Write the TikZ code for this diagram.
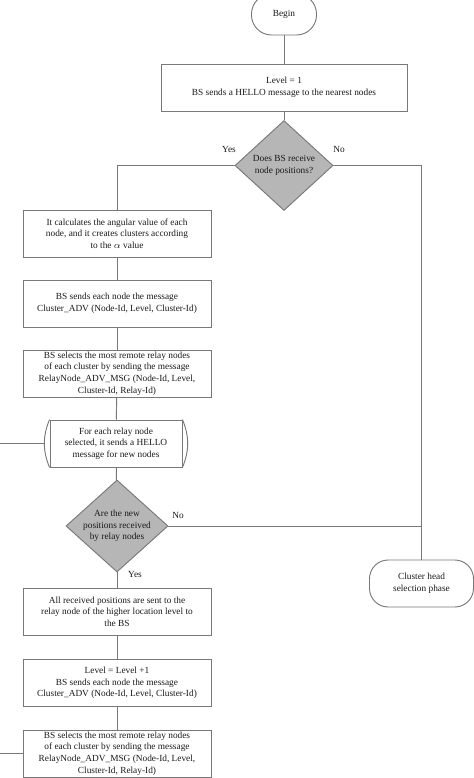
\documentclass[tikz,border=0pt]{standalone}
\usepackage{fontspec}
\setmainfont{Liberation Serif}
\usetikzlibrary{shapes.geometric}
\definecolor{linegray}{RGB}{120,120,120}
\definecolor{diagray}{RGB}{182,182,182}

\begin{document}
\begin{tikzpicture}[x=0.75pt,y=-0.75pt,
        every node/.style={font=\fontsize{7}{8.75}\selectfont, align=center, text=black!90},
        box/.style={draw=linegray, line width=0.7pt, minimum width=141pt, minimum height=35.25pt, inner sep=1pt},
        decision/.style={diamond, aspect=1.1, draw=linegray, fill=diagray, line width=0.7pt, inner sep=-1pt},
        terminal/.style={draw=linegray, line width=0.7pt, inner sep=1pt},
        link/.style={draw=linegray, line width=0.7pt}]
        \useasboundingbox (0,0) rectangle (474,778);

        \node[terminal, rounded corners=15pt, minimum width=48.75pt, minimum height=30.75pt] (begin) at (284,14.5) {Begin};
        \node[box, minimum width=184.5pt] (level) at (284,87.5) {Level = 1\\BS sends a HELLO message to the nearest nodes};
        \node[decision, minimum width=73.5pt, minimum height=67.5pt] (ask) at (284,165.5) {Does BS receive\\node positions?};
        \node[box] (angle) at (117,233.5) {It calculates the angular value of each\\node, and it creates clusters according\\to the $\alpha$ value};
        \node[box] (adv) at (117,303.5) {BS sends each node the message\\Cluster\_ADV (Node-Id, Level, Cluster-Id)};
        \node[box] (select) at (117,373.5) {BS selects the most remote relay nodes\\of each cluster by sending the message\\RelayNode\_ADV\_MSG (Node-Id, Level,\\Cluster-Id, Relay-Id)};
        \node[box, minimum width=99pt] (relay) at (116,443.5) {For each relay node\\selected, it sends a HELLO\\message for new nodes};
        \node[decision, minimum width=76.5pt, minimum height=69pt] (newpos) at (117,526) {Are the new\\positions received\\by relay nodes};
        \node[box] (sendbs) at (117,611.5) {All received positions are sent to the\\relay node of the higher location level to\\the BS};
        \node[box] (level2) at (117,683) {Level = Level +1\\BS sends each node the message\\Cluster\_ADV (Node-Id, Level, Cluster-Id)};
        \node[box] (select2) at (117,753.5) {BS selects the most remote relay nodes\\of each cluster by sending the message\\RelayNode\_ADV\_MSG (Node-Id, Level,\\Cluster-Id, Relay-Id)};
        \node[terminal, rounded corners=14pt, minimum width=78pt, minimum height=35.25pt] (head) at (421.5,583.5) {Cluster head\\selection phase};

        \node (yes1) at (229,149) {Yes};
        \node (no1) at (339,149) {No};
        \node (no2) at (178,515) {No};
        \node (yes2) at (135,574) {Yes};

        \draw[link] (relay.north west) to[bend right=22] (relay.south west);
        \draw[link] (relay.north east) to[bend left=22] (relay.south east);

        \coordinate (loopa) at (0,443.5);
        \coordinate (loopb) at (0,753.5);

        \draw[link] (begin) -- (level);
        \draw[link] (level) -- (ask);
        \draw[link] (ask.west) -| (angle.north);
        \draw[link] (ask.east) -| (head.north);
        \draw[link] (angle) -- (adv);
        \draw[link] (adv) -- (select);
        \draw[link] (select) -- (relay);
        \draw[link] (relay) -- (newpos);
        \draw[link] (newpos) -- (sendbs);
        \draw[link] (sendbs) -- (level2);
        \draw[link] (level2) -- (select2);
        \draw[link] (newpos.east) -- (newpos.east -| head.north);
        \draw[link] (loopa) -- ([xshift=-3.75pt]relay.west);
        \draw[link] (loopb) -- (select2.west);
    \end{tikzpicture}
\end{document}
